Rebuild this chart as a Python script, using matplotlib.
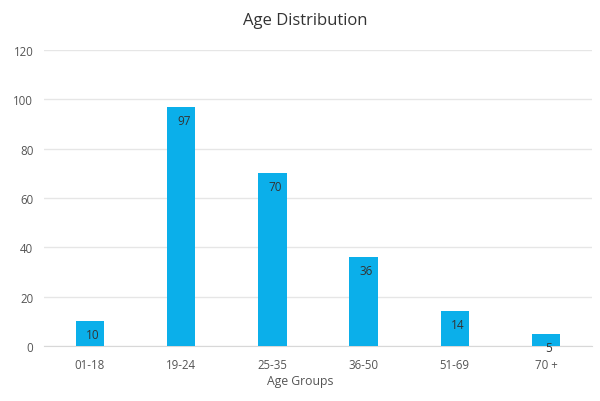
import matplotlib
matplotlib.use("Agg")
import matplotlib.pyplot as plt

categories = ["01-18", "19-24", "25-35", "36-50", "51-69", "70 +"]
values = [10, 97, 70, 36, 14, 5]
yticks = [0, 20, 40, 60, 80, 100, 120]

plt.rcParams['font.family'] = ['Open Sans', 'DejaVu Sans']

fig = plt.figure(figsize=(6.0, 4.02), dpi=100)
ax = fig.add_axes([0.074, 0.137, 0.912, 0.736])

x = list(range(len(categories)))
ax.bar(x, values, width=0.31, color="#0BAFEA", zorder=3)
for xi, v in zip(x, values):
    ax.annotate(str(v), (xi, v), xytext=(2, -5), textcoords="offset points",
                ha="center", va="top", fontsize=8.5, color="#333333", zorder=4)

ax.set_xlim(-0.5, len(categories) - 0.5)
ax.set_ylim(0, 120)
ax.set_yticks(yticks)
ax.set_xticks(x)
ax.set_xticklabels(categories)
ax.grid(axis="y", color="#e6e6e6", linewidth=1, zorder=0)
for s in ["top", "right", "left"]:
    ax.spines[s].set_visible(False)
ax.spines["bottom"].set_color("#d8d8d8")
ax.tick_params(axis="both", length=0, labelsize=8.3, colors="#555555")
ax.tick_params(axis="y", pad=8)
ax.tick_params(axis="x", pad=9)
fig.text(0.5, 1 - 382 / 402, "Age Groups", ha="center", va="center", fontsize=8.8, color="#555555")
fig.text(305 / 600, 1 - 21 / 402, "Age Distribution", ha="center", va="center", fontsize=12, color="#333333")

fig.savefig("out.png", dpi=100, facecolor="white")
